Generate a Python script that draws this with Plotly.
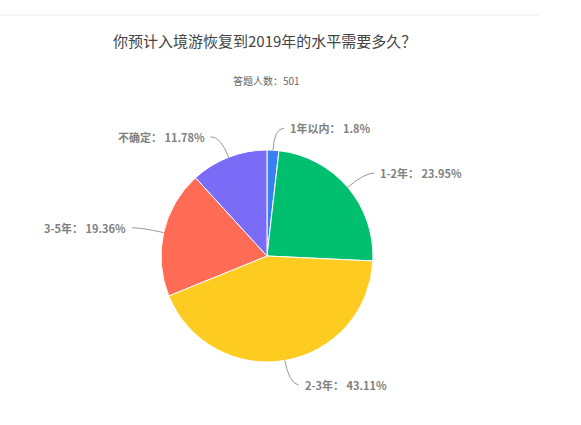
import math
import plotly.graph_objects as go

W, H = 581, 425

# survey answers
labels = ["1年以内", "1-2年", "2-3年", "3-5年", "不确定"]
values = [1.8, 23.95, 43.11, 19.36, 11.78]
colors = ["#3a7ef6", "#00c06f", "#fecb20", "#ff6b54", "#7b6cf7"]

title_text = "你预计入境游恢复到2019年的水平需要多久？"
subtitle_text = "答题人数：501"

# pie geometry in pixels
cx, cy, r = 267, 256, 106


def px(x, y):
    return x / W, 1 - y / H


fig = go.Figure()
fig.add_trace(go.Pie(
    labels=labels,
    values=values,
    sort=False,
    direction="clockwise",
    rotation=0,
    marker=dict(colors=colors, line=dict(color="white", width=1)),
    textinfo="none",
    hoverinfo="label+percent",
    showlegend=False,
    domain=dict(x=[(cx - r) / W, (cx + r) / W], y=[1 - (cy + r) / H, 1 - (cy - r) / H]),
))

# outside labels with leader lines, placed from slice mid-angles
shapes = [dict(type="line", xref="paper", yref="paper",
               x0=0, x1=539 / W, y0=1 - 15 / H, y1=1 - 15 / H,
               line=dict(color="#eeeeee", width=1))]
annotations = []
total = sum(values)
cum = 0
for lab, v in zip(labels, values):
    mid = (cum + v / 2) / total * 2 * math.pi
    cum += v
    sx, sy = math.sin(mid), -math.cos(mid)
    x0, y0 = cx + r * sx, cy + r * sy
    x1, y1 = cx + (r + 22) * sx, cy + (r + 22) * sy
    side = 1 if sx >= 0 else -1
    x2, y2 = x1 + 10 * side, y1 + (3 if sy > 0.9 else 0)
    a, b, c = px(x0, y0), px(x1, y1), px(x2, y2)
    shapes.append(dict(
        type="path", xref="paper", yref="paper",
        path=f"M {a[0]},{a[1]} Q {b[0]},{b[1]} {c[0]},{c[1]}",
        line=dict(color="#999999", width=1),
    ))
    tx, ty = px(x2 + 4 * side, y2)
    annotations.append(dict(
        x=tx, y=ty, xref="paper", yref="paper", showarrow=False,
        xanchor="left" if side > 0 else "right", yanchor="middle",
        text=f"<b>{lab}： {v}%</b>",
        font=dict(size=11, color="#808080"),
    ))

annotations.append(dict(
    x=264 / W, y=1 - 40 / H, xref="paper", yref="paper", showarrow=False,
    text=title_text, xanchor="center", yanchor="middle",
    font=dict(size=15, color="#444444"),
))
annotations.append(dict(
    x=266 / W, y=1 - 81 / H, xref="paper", yref="paper", showarrow=False,
    text=subtitle_text, xanchor="center", yanchor="middle",
    font=dict(size=10, color="#666666"),
))

fig.update_layout(
    width=W, height=H,
    margin=dict(l=0, r=0, t=0, b=0),
    paper_bgcolor="white",
    plot_bgcolor="white",
    font=dict(family="Noto Sans CJK SC, sans-serif"),
    shapes=shapes,
    annotations=annotations,
)

# drop the default page margin so the figure sits at the window corner
fig.write_html("out.html", config={"displayModeBar": False},
               post_script="document.body.style.margin = '0';")
